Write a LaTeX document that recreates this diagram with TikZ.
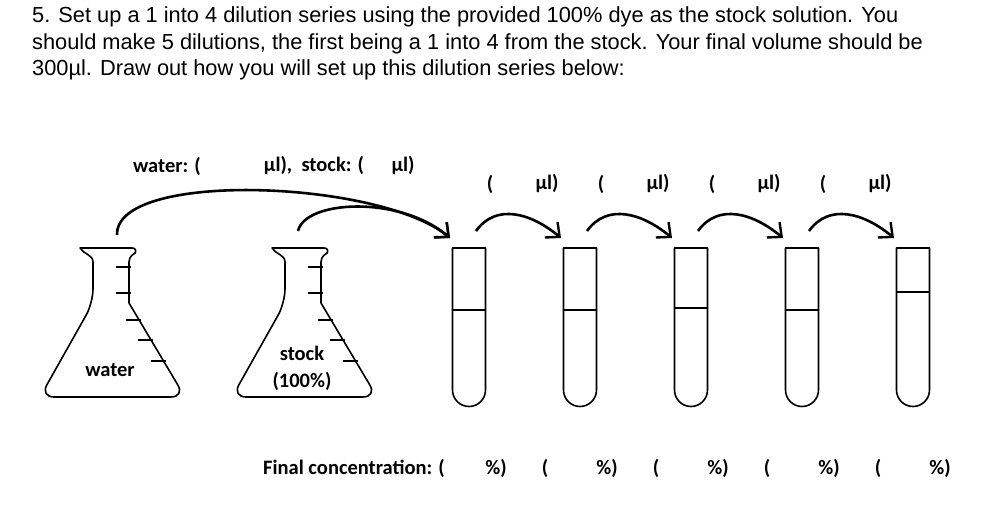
\documentclass[tikz,border=0pt]{standalone}
\usepackage{fontspec}
\setmainfont{Liberation Sans}
\newfontfamily\calfont{Carlito}
\usetikzlibrary{arrows.meta}
\begin{document}
\begin{tikzpicture}[x=1pt,y=-1pt,
  glass/.style={draw=black,line width=1.6pt,line join=round},
  lbl/.style={font=\calfont\bfseries\fontsize{20.5}{24}\selectfont,inner sep=0pt},
  arr/.style={line width=2.6pt,-{Straight Barb[length=11pt,width=20pt,line width=2.4pt]}}]
\useasboundingbox (0,0) rectangle (998,506);
\node[anchor=north west,align=left,font=\fontsize{21.8}{26.5}\selectfont,inner sep=0pt] (q) at (32,7)
{5. Set up a 1 into 4 dilution series using the provided 100\% dye as the stock solution. You\\
should make 5 dilutions, the first being a 1 into 4 from the stock. Your final volume should be\\
300µl. Draw out how you will set up this dilution series below:};
\foreach \dx/\nm in {0/f1,192/f2}{
\begin{scope}[xshift=\dx]
\draw[glass,rounded corners=6pt] (80,248) -- (138,248) [sharp corners] to[out=-120,in=90] (129,262) -- (129,303) [rounded corners=14pt]-- (185,397) -- (40,397) -- (93,303) [sharp corners]-- (93,262) to[out=90,in=-60] (80,248) -- cycle;
\foreach \y in {267,293,320,340,361}
  \draw[line width=1.4pt] ({129+(\y-303)*56/94*(\y>303)-13},\y) -- ++(15,0);
\coordinate (\nm) at (117,235);
\end{scope}}
\node[lbl] (w) at (110,370) {water};
\node[lbl,align=center] (s) at (302,368) {stock\\[3pt](100\%)};
\foreach \i/\cx/\ly in {1/469/310,2/580/310,3/691/308,4/802/310,5/913/292}{
\draw[glass] (\cx-16.5,248) -- (\cx+16.5,248) -- (\cx+16.5,390) arc(0:180:16.5) -- cycle;
\draw[line width=1.4pt] (\cx-16.5,\ly) -- (\cx+16.5,\ly);
\coordinate (t\i) at (\cx-19,238);
\coordinate (s\i) at (\cx+7,231);
}
\draw[arr] (f1) .. controls (115,170) and (380,180) .. (t1);
\draw[arr] (f2) ++(-11,-4) .. controls (305,200) and (400,195) .. (t1);
\foreach \a/\b in {1/2,2/3,3/4,4/5} \draw[arr] (s\a) .. controls +(20,-28) and +(-30,-25) .. (t\b);
\node[lbl] (l1) at (167,166) {water: (};
\node[lbl] (l2) at (314,166) {µl),\ \ stock: (};
\node[lbl] (l3) at (403,166) {µl)};
\foreach \i/\cx in {1/469,2/580,3/691,4/802}{
\node[lbl] (o\i) at (\cx+21,184) {(};
\node[lbl] (m\i) at (\cx+78,184) {µl)};
}
\node[lbl] (fc) at (354,468) {Final concentration: (};
\foreach \i/\cx in {1/469,2/580,3/691,4/802,5/913}{
\node[lbl] (p\i) at (\cx+27,468) {\%)};}
\foreach \i/\cx in {1/469,2/580,3/691,4/802}{
\node[lbl] (q\i) at (\cx+76,468) {(};}
\end{tikzpicture}
\end{document}
